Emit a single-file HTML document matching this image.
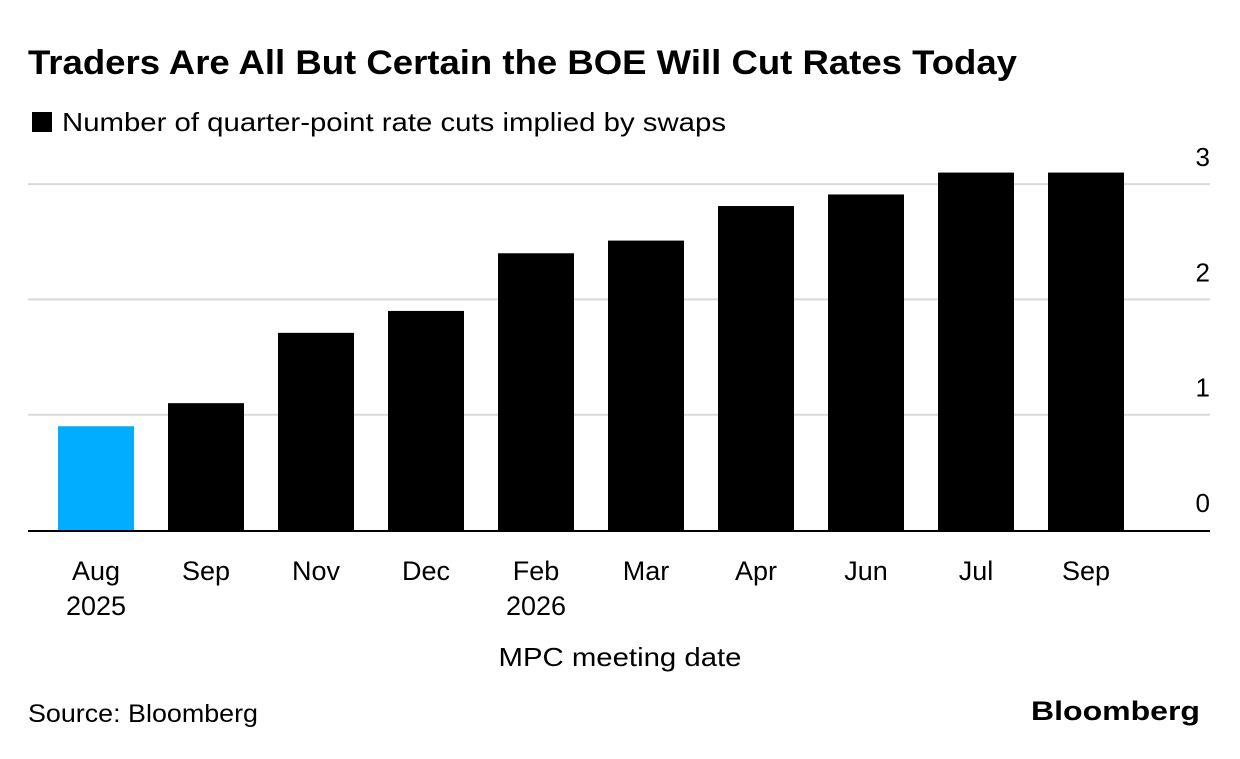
<!DOCTYPE html>
<html><head><meta charset="utf-8"><style>
body{margin:0;background:#fff;font-family:"Liberation Sans",Arial,sans-serif;}
svg text{font-family:"Liberation Sans",Arial,sans-serif;}
</style></head><body>
<svg id="chart" width="1240" height="754" viewBox="0 0 1240 754" xmlns="http://www.w3.org/2000/svg">
<text x="28" y="74" font-size="34" font-weight="bold" fill="#000" textLength="989" lengthAdjust="spacingAndGlyphs">Traders Are All But Certain the BOE Will Cut Rates Today</text>
<rect x="32" y="112" width="20" height="20" fill="#000"/>
<text x="62" y="131" font-size="26" fill="#000" textLength="664" lengthAdjust="spacingAndGlyphs">Number of quarter-point rate cuts implied by swaps</text>
<g id="grid"></g>
<g id="bars"></g>
<g id="xlabels"></g>
<text x="620" y="666" font-size="26" text-anchor="middle" fill="#000" textLength="243" lengthAdjust="spacingAndGlyphs">MPC meeting date</text>
<text x="28" y="722" font-size="25" fill="#000" textLength="230" lengthAdjust="spacingAndGlyphs">Source: Bloomberg</text>
<text x="1200" y="720" font-size="27" font-weight="bold" text-anchor="end" fill="#000" textLength="169" lengthAdjust="spacingAndGlyphs">Bloomberg</text>
</svg>
<script>
const categories=["Aug","Sep","Nov","Dec","Feb","Mar","Apr","Jun","Jul","Sep"];
const subLabels=["2025","","","","2026","","","","",""];
const values=[0.9,1.1,1.71,1.9,2.4,2.51,2.81,2.91,3.1,3.1];
const yTicks=[0,1,2,3];
const NS="http://www.w3.org/2000/svg";
const y0=530,unit=115.3,x0=96,step=110,bw=76,left=28,right=1210;
const y=v=>y0-v*unit;
const x=i=>x0+i*step;
function mk(t,a,p){const e=document.createElementNS(NS,t);for(const k in a)e.setAttribute(k,a[k]);p.appendChild(e);return e;}
const g=document.getElementById('grid');
yTicks.forEach(t=>{
 if(t>0){const l=mk('line',{x1:left,x2:right,y1:y(t),y2:y(t),stroke:'#d9d9d9','stroke-width':2},g);
 
 }
 const tx=mk('text',{x:right,y:y(t)-18,'font-size':26,'text-anchor':'end',fill:'#000'},g);
 tx.textContent=t;
 
 
});
const b=document.getElementById('bars');
values.forEach((v,i)=>{
 const r=mk('rect',{x:x(i)-bw/2,y:y(v),width:bw,height:y0-y(v),fill:i===0?'#00adff':'#000'},b);
 
 
});
const ax=mk('line',{x1:left,x2:right,y1:y0+1,y2:y0+1,stroke:'#000','stroke-width':2},b);


const xl=document.getElementById('xlabels');
categories.forEach((c,i)=>{
 const t=mk('text',{x:x(i),y:580,'font-size':27,'text-anchor':'middle',fill:'#000'},xl);
 t.textContent=c;
 
 
 if(subLabels[i]){const s=mk('text',{x:x(i),y:615,'font-size':27,'text-anchor':'middle',fill:'#000'},xl);
 s.textContent=subLabels[i];
 
 }
});
</script>
</body></html>
